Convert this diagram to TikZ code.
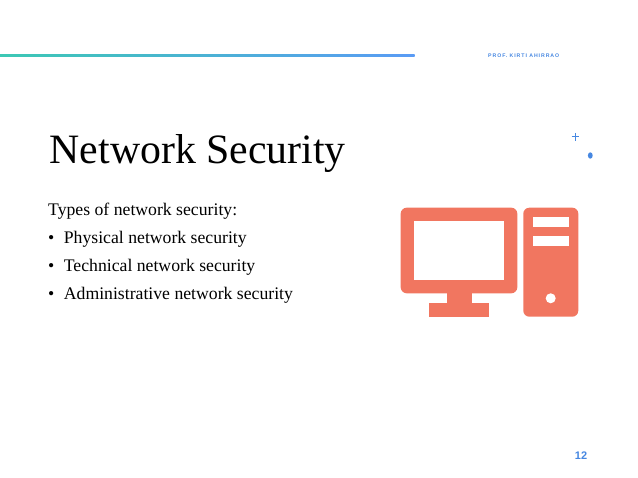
\documentclass[tikz,border=0pt]{standalone}
\usepackage{fontspec}
\setmainfont{Liberation Serif}
\setsansfont{Liberation Sans}
\newfontfamily\spacedfont[LetterSpace=18]{Liberation Sans}
\definecolor{slidecoral}{RGB}{241,118,96}
\definecolor{slideblue}{RGB}{70,135,225}
\definecolor{slideteal}{RGB}{60,200,180}
\definecolor{sliderule}{RGB}{90,155,245}
\tikzset{
  bodytext/.style={anchor=base west, inner sep=0pt, font=\fontsize{17.7}{20}\selectfont},
  coral/.style={fill=slidecoral, draw=none},
  slot/.style={fill=white, draw=none}
}
\begin{document}
\begin{tikzpicture}[x=1pt,y=-1pt]
\useasboundingbox (0,0) rectangle (638,478);
\shade[left color=slideteal, right color=sliderule] (0,55) rectangle (414.5,56.5);
\node[inner sep=0pt, anchor=west, font=\spacedfont\bfseries\fontsize{5.2}{6}\selectfont, text=slideblue] (author) at (488,55.3){PROF. KIRTI AHIRRAO};
\node[anchor=base west, inner sep=0pt, font=\fontsize{41.8}{44}\selectfont] (title) at (49.5,164){Network Security};
\node[bodytext] (intro) at (48,216){Types of network security:};
\node[bodytext] (item1) at (48,244){\textbullet\hspace{9.5pt}Physical network security};
\node[bodytext] (item2) at (48,272){\textbullet\hspace{9.5pt}Technical network security};
\node[bodytext] (item3) at (48,299.5){\textbullet\hspace{9.5pt}Administrative network security};
% plus and dot
\draw[slideblue, line width=1pt] (571.5,137) -- (579.3,137);
\draw[slideblue, line width=1pt] (575.4,132.8) -- (575.4,141.3);
\fill[slideblue] (590.3,155.5) ellipse (2.4 and 3.2);
% monitor
\fill[coral, rounded corners=6pt] (400.7,207.7) rectangle (517.3,293.3);
\fill[slot] (413.7,221) rectangle (504,280.3);
\fill[coral] (446.7,292) rectangle (471.7,304);
\fill[coral] (429.3,303.3) rectangle (488.7,316.7);
% tower
\fill[coral, rounded corners=6pt] (523.3,207.7) rectangle (578.3,316.7);
\fill[slot] (532.7,217.3) rectangle (569.3,227);
\fill[slot] (532.7,236.3) rectangle (569.3,246);
\fill[slot] (550.7,298.3) circle (5);
\node[inner sep=0pt, font=\sffamily\bfseries\fontsize{11}{12}\selectfont, text=slideblue] (pagenum) at (581,456){12};
\end{tikzpicture}
\end{document}
